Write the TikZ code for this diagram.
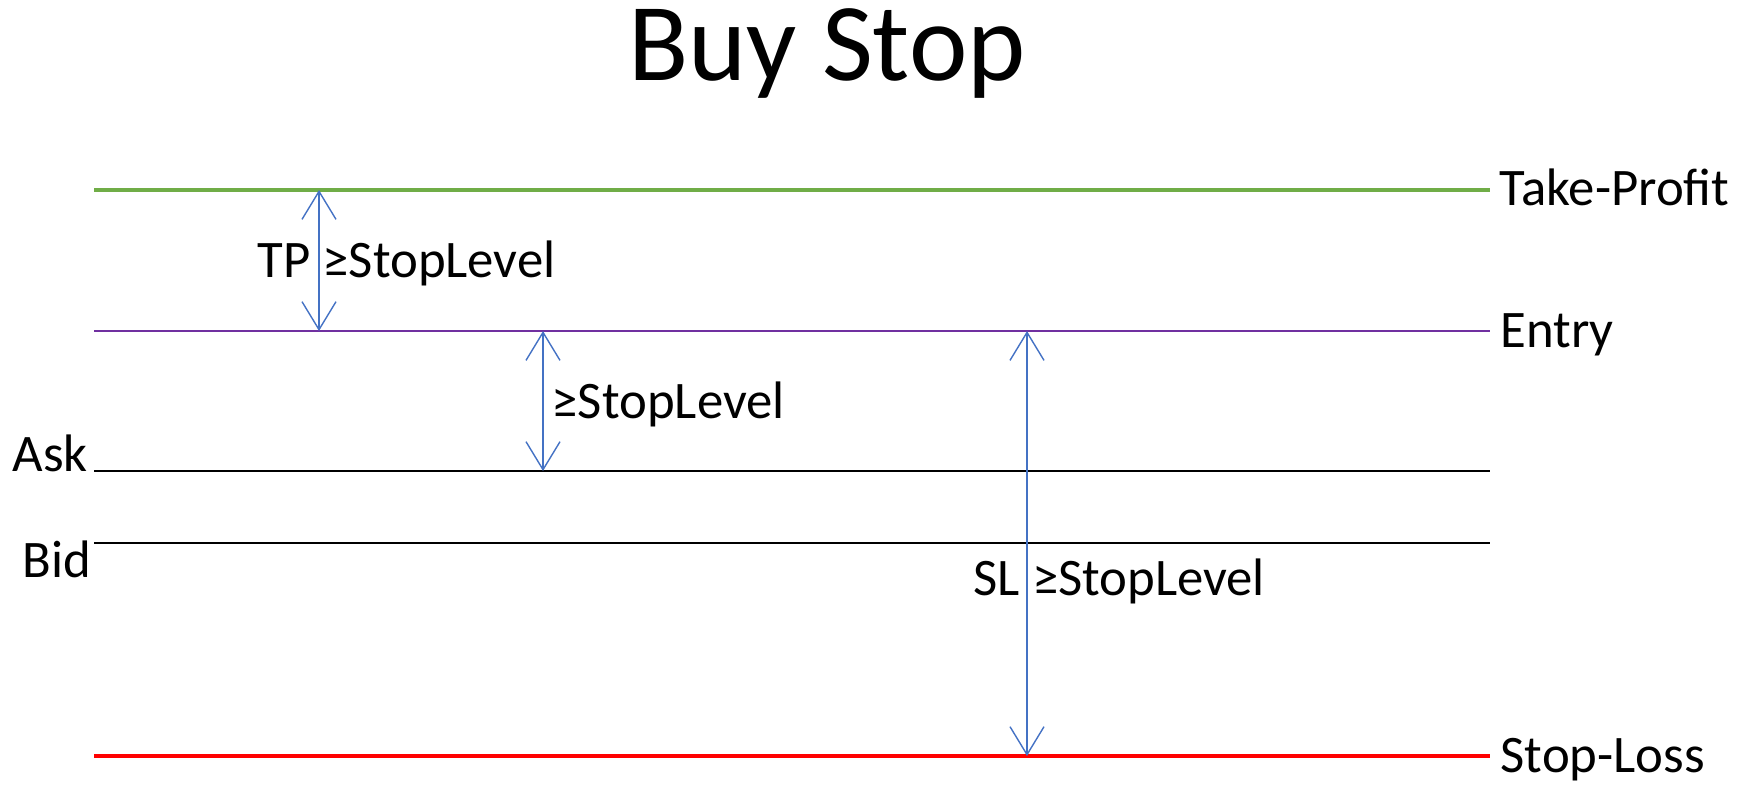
\documentclass[tikz,border=0pt]{standalone}
\usepackage{fontspec}
\setmainfont{Carlito}
\usetikzlibrary{arrows.meta}

\definecolor{tpgreen}{RGB}{112,173,71}
\definecolor{entrypurple}{RGB}{112,48,160}
\definecolor{gapblue}{RGB}{68,114,196}

\tikzset{
  gaparrow/.style={draw=gapblue, line width=0.4pt,
    {Straight Barb[length=0.28cm,width=0.34cm]}-{Straight Barb[length=0.28cm,width=0.34cm]}},
  lbl/.style={inner sep=0pt, font=\fontsize{15}{18}\selectfont}
}

\begin{document}
\begin{tikzpicture}[x=0.01cm,y=-0.01cm]
    \useasboundingbox (0,0) rectangle (1740,790);

    \node[anchor=base, inner sep=0pt, font=\fontsize{31.5}{38}\selectfont] (title) at (827,80) {Buy Stop};

    % price levels
    \coordinate (tpL) at (94,190);   \coordinate (tpR) at (1490,190);
    \coordinate (enL) at (94,331);   \coordinate (enR) at (1490,331);
    \coordinate (askL) at (94,471);  \coordinate (askR) at (1490,471);
    \coordinate (bidL) at (94,543);  \coordinate (bidR) at (1490,543);
    \coordinate (slL) at (94,756);   \coordinate (slR) at (1490,756);

    \draw[tpgreen, line width=0.94pt] (tpL) -- (tpR);
    \draw[entrypurple, line width=0.6pt] (enL) -- (enR);
    \draw[black, line width=0.6pt] (askL) -- (askR);
    \draw[black, line width=0.6pt] (bidL) -- (bidR);
    \draw[red, line width=0.9pt] (slL) -- (slR);

    \node[lbl, anchor=base west] (tplbl) at (1499,205) {Take-Profit};
    \node[lbl, anchor=base west] (enlbl) at (1500,347) {Entry};
    \node[lbl, anchor=base west] (asklbl) at (12,471) {Ask};
    \node[lbl, anchor=base west] (bidlbl) at (22,577) {Bid};
    \node[lbl, anchor=base west] (sllbl) at (1500,772) {Stop-Loss};

    % distances
    \coordinate (tpTop) at (319,190);  \coordinate (tpBot) at (319,331);
    \coordinate (enTop) at (543,331);  \coordinate (enBot) at (543,471);
    \coordinate (slTop) at (1027,331); \coordinate (slBot) at (1027,756);

    \draw[gaparrow] (tpTop) -- (tpBot);
    \draw[gaparrow] (enTop) -- (enBot);
    \draw[gaparrow] (slTop) -- (slBot);

    \node[lbl, anchor=base west] (tpgap) at (257,277) {TP ≥StopLevel};
    \node[lbl, anchor=base west] (engap) at (551,418) {≥StopLevel};
    \node[lbl, anchor=base west] (slgap) at (973,595) {SL ≥StopLevel};
\end{tikzpicture}
\end{document}
